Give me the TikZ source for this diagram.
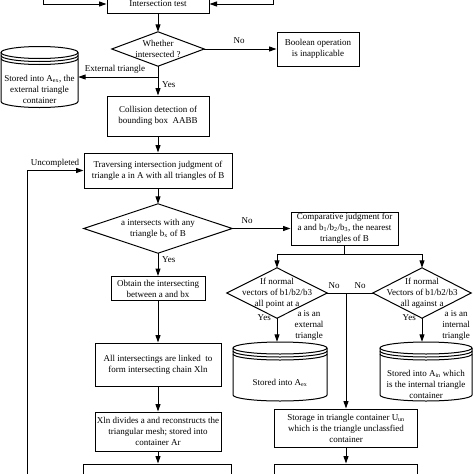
\documentclass[tikz,border=0pt]{standalone}
\usepackage{fontspec}
\setmainfont{Liberation Serif}
\usetikzlibrary{arrows.meta,calc}
\newcommand{\disk}[5]{% name, cx, cy, w, h
 \node[draw=none,inner sep=0pt,minimum width=#4pt,minimum height=#5pt] (#1) at (#2,#3) {};
 \pgfmathsetmacro{\dL}{#2-#4/2}\pgfmathsetmacro{\dR}{#2+#4/2}%
 \pgfmathsetmacro{\dT}{#3+#5/2}\pgfmathsetmacro{\dB}{#3-#5/2}\pgfmathsetmacro{\dX}{#4/2}%
 \draw[ln] (#2,\dT-6) ellipse[x radius=\dX,y radius=6];
 \draw[ln] (\dL,\dT-9) arc[start angle=180,end angle=360,x radius=\dX,y radius=6];
 \draw[ln] (\dL,\dT-12) arc[start angle=180,end angle=360,x radius=\dX,y radius=6];
 \draw[ln] (\dL,\dT-6) -- (\dL,\dB+6) arc[start angle=180,end angle=360,x radius=\dX,y radius=6] -- (\dR,\dT-6);
}
\begin{document}
\begin{tikzpicture}[x=1pt,y=1pt,
  ln/.style={line width=1pt},
  box/.style={draw,ln,inner sep=0pt,align=center,font=\fontsize{9}{11}\selectfont},
  dia/.style={inner sep=0pt,align=center,font=\fontsize{9}{11}\selectfont},
  txt/.style={inner sep=0pt,align=center,font=\fontsize{9}{11}\selectfont},
  arr/.style={ln,-{Triangle[length=7.5pt,width=5pt]}}]
\useasboundingbox (0,0) rectangle (474,-474);
% top
\node[box,minimum width=102pt,minimum height=18pt] (test) at (158,-4) {Intersection test};
\coordinate (inL) at (43,8);
\coordinate (inR) at (273,8);
\draw[arr] (inL) |- (test.west);
\draw[arr] (inR) |- (test.east);
% decision 1
\node[dia,minimum width=92pt,minimum height=34pt] (d1) at (158,-49) {Whether\\intersected ?};
\draw[ln] (d1.north) -- (d1.east) -- (d1.south) -- (d1.west) -- cycle;
\node[box,minimum width=82pt,minimum height=34pt] (bool) at (318,-49) {Boolean operation\\is inapplicable};
\disk{c1}{39.5}{-77}{77}{61}
\node[txt] (c1t) at (39.5,-89) {Stored into A\textsubscript{ex}, the\\external triangle\\container};
\node[box,minimum width=102pt,minimum height=40pt] (coll) at (158,-116) {Collision detection of\\bounding box\ \ AABB};
\node[box,minimum width=148pt,minimum height=35pt] (trav) at (158,-170.5) {Traversing intersection judgment of\\triangle a in A with all triangles of B};
\node[dia,minimum width=148pt,minimum height=49pt] (d2) at (158,-228.5) {a intersects with any\\triangle b\textsubscript{x} of B};
\draw[ln] (d2.north) -- (d2.east) -- (d2.south) -- (d2.west) -- cycle;
\node[box,minimum width=94pt,minimum height=24pt] (obt) at (158,-288.5) {Obtain the intersecting\\between a and bx};
\node[box,minimum width=126pt,minimum height=43pt] (allint) at (158,-364.5) {All intersectings are linked\ \ to\\form intersecting chain Xln};
\node[box,minimum width=126pt,minimum height=39pt] (xln) at (158,-431.5) {Xln divides a and reconstructs the\\triangular mesh; stored into\\container Ar};
\node[box,minimum width=148pt,minimum height=40pt] (botL) at (157,-484) {};
% right column
\node[box,minimum width=107pt,minimum height=33pt] (comp) at (344.5,-228.5) {Comparative judgment for\\a and b\textsubscript{1}/b\textsubscript{2}/b\textsubscript{3}, the nearest\\triangles of B};
\node[dia,minimum width=100pt,minimum height=50pt] (d3) at (277,-293) {If normal\\vectors of b1/b2/b3\\all point at a};
\draw[ln] (d3.north) -- (d3.east) -- (d3.south) -- (d3.west) -- cycle;
\node[dia,minimum width=98pt,minimum height=50pt] (d4) at (422,-293) {If normal\\Vectors of b1/b2/b3\\all against a};
\draw[ln] (d4.north) -- (d4.east) -- (d4.south) -- (d4.west) -- cycle;
\disk{c2}{280}{-371.5}{94}{59}
\node[txt] (c2t) at (280,-383) {Stored into A\textsubscript{ex}};
\disk{c3}{426}{-371.5}{92}{59}
\node[txt] (c3t) at (426,-384) {Stored into A\textsubscript{in} which\\is the internal triangle\\container};
\node[box,minimum width=143pt,minimum height=38pt] (stor) at (346,-428) {Storage in triangle container U\textsubscript{un}\\which is the triangle unclassfied\\container};
\node[box,minimum width=143pt,minimum height=40pt] (botR) at (346,-484) {};
% connectors
\draw[arr] (test.south) -- (d1.north);
\draw[arr] (d1.east) -- (bool.west);
\node[txt] (lno1) at (239,-41) {No};
\draw[arr] (d1.south) -- (coll.north);
\coordinate (br) at (158,-77);
\draw[arr] (br) -- (br -| c1.east);
\node[txt] (lext) at (115,-69) {External triangle};
\node[txt,anchor=west] (lyes1) at (162,-85) {Yes};
\draw[arr] (coll.south) -- (trav.north);
\draw[arr] (trav.south) -- (d2.north);
\draw[arr] (d2.south) -- (obt.north);
\node[txt,anchor=west] (lyes2) at (162,-260) {Yes};
\draw[arr] (d2.east) -- (comp.west);
\node[txt] (lno2) at (247,-221) {No};
\draw[arr] (obt.south) -- (allint.north);
\draw[arr] (allint.south) -- (xln.north);
\draw[arr] (xln.south) -- (xln.south |- botL.north);
\coordinate (lp) at (27,-490);
\draw[arr] (lp) |- (trav.west);
\node[txt] (lunc) at (55,-163) {Uncompleted};
\coordinate (split) at (344.5,-254);
\draw[ln] (comp.south) -- (split);
\draw[arr] (split) -| (d3.north);
\draw[arr] (split) -| (d4.north);
\draw[ln] (d3.east) -- (d4.west);
\node[txt] (lno3) at (334,-286) {No};
\node[txt] (lno4) at (360,-286) {No};
\coordinate (mid) at (346,-293);
\draw[arr] (mid) -- (stor.north);
\draw[arr] (d3.south) -- (d3.south |- c2.north);
\draw[arr] (d4.south) -- (d4.south |- c3.north);
\node[txt,anchor=east] (lyes3) at (271,-318) {Yes};
\node[txt,anchor=east] (lyes4) at (416,-318) {Yes};
\node[txt] (lext2) at (309,-325) {a is an\\external\\triangle};
\node[txt] (lint) at (456,-325) {a is an\\internal\\triangle};
\draw[arr] (stor.south) -- (botR.north);
\end{tikzpicture}
\end{document}
